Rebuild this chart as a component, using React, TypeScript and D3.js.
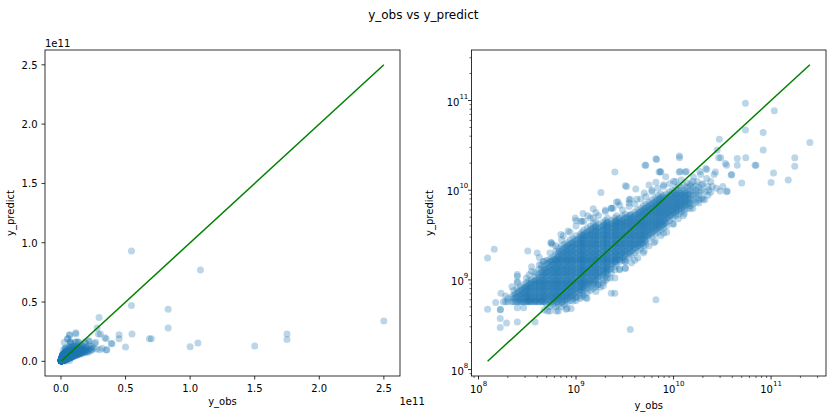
import * as d3 from "d3";

// all observed / predicted values are given in units of 1e8
const UNIT = 1e8;

// dense part of the cloud: one y_obs value with the y_predict values read above it
const cloud: [number, number[]][] = [
  [1.8, [5.7]],
  [1.9, [5.7, 6.6]],
  [2.0, [5.7, 6.2]],
  [2.2, [5.7, 6.5, 8.4]],
  [2.3, [5.7, 6.2, 6.8, 7.6]],
  [2.5, [4.9, 5.7, 6.5, 7.2, 8, 9.6, 11.5]],
  [2.7, [5.7, 6.2, 6.8, 7.6, 8.4]],
  [2.9, [4.9, 5.7, 6.5, 7.2, 8, 8.9]],
  [3.1, [5.7, 6.2, 6.8, 7.6, 8.4, 9.3, 10.5]],
  [3.3, [5.7, 5.9, 6.5, 7.2, 8, 8.9, 9.8, 11.4]],
  [3.5, [5.7, 6.2, 6.8, 7.6, 8.4, 9.3, 10, 12.4]],
  [3.8, [5.7, 5.9, 6.5, 7.2, 8, 8.9, 9.8, 11, 12]],
  [4.1, [5.7, 6.2, 6.8, 7.6, 8.4, 9.3, 10, 11.5, 13]],
  [4.4, [5.7, 5.9, 6.5, 7.2, 8, 8.9, 9.8, 11, 12, 13.4, 14.7]],
  [4.7, [4.6, 5.7, 6.2, 6.8, 7.6, 8.4, 9.3, 10, 11.5, 13, 14, 16]],
  [5.0, [5.3, 5.9, 6.5, 7.2, 8, 8.9, 9.8, 11, 12, 13.4, 15, 16.5]],
  [5.4, [4.5, 5, 5.6, 6.2, 6.8, 7.6, 8.4, 9.3, 10, 11.5, 13, 14, 16, 17, 20]],
  [5.8, [5.3, 5.9, 6.5, 7.2, 8, 8.9, 9.8, 11, 12, 13.4, 15, 16.5, 18]],
  [6.2, [5, 5.6, 6.2, 6.8, 7.6, 8.4, 9.3, 10, 11.5, 13, 14, 16, 17, 19, 21, 24]],
  [6.6, [4.5, 5.3, 5.9, 6.5, 7.2, 8, 8.9, 9.8, 11, 12, 13.4, 15, 16.5, 18, 20, 22.5]],
  [7.1, [5, 5.6, 6.2, 6.8, 7.6, 8.4, 9.3, 10, 11.5, 13, 14, 16, 17, 19, 21, 24, 28]],
  [7.6, [5.3, 5.9, 6.5, 7.2, 8, 8.9, 9.8, 11, 12, 13.4, 15, 16.5, 18, 20, 22.5, 25]],
  [8.1, [4.8, 5.6, 6.2, 6.8, 7.6, 8.4, 9.3, 10, 11.5, 13, 14, 16, 17, 19, 21, 24, 26]],
  [8.7, [5.9, 6.5, 7.2, 8, 8.9, 9.8, 11, 12, 13.4, 15, 16.5, 18, 20, 22.5, 25, 28, 34]],
  [9.3, [5.8, 6.2, 6.8, 7.6, 8.4, 9.3, 10, 11.5, 13, 14, 16, 17, 19, 21, 24, 26, 29]],
  [10, [5.9, 6.5, 7.2, 8, 8.9, 9.8, 11, 12, 13.4, 15, 16.5, 18, 20, 22.5, 25, 28, 31, 40]],
  [11, [6.2, 6.8, 7.6, 8.4, 9.3, 10, 11.5, 13, 14, 16, 17, 19, 21, 24, 26, 29, 32]],
  [11.5, [6.5, 7.2, 8, 8.9, 9.8, 11, 12, 13.4, 15, 16.5, 18, 20, 22.5, 25, 28, 31, 34, 45]],
  [12, [6.8, 7.6, 8.4, 9.3, 10, 11.5, 13, 14, 16, 17, 19, 21, 24, 26, 29, 32, 36]],
  [13, [6.2, 7.2, 8, 8.9, 9.8, 11, 12, 13.4, 15, 16.5, 18, 20, 22.5, 25, 28, 31, 34, 38]],
  [14, [7.6, 8.4, 9.3, 10, 11.5, 13, 14, 16, 17, 19, 21, 24, 26, 29, 32, 36, 40, 49]],
  [15, [8, 8.9, 9.8, 11, 12, 13.4, 15, 16.5, 18, 20, 22.5, 25, 28, 31, 34, 38, 42]],
  [16, [7.4, 8.4, 9.3, 10, 11.5, 13, 14, 16, 17, 19, 21, 24, 26, 29, 32, 36, 40, 44]],
  [17, [8.9, 9.8, 11, 12, 13.4, 15, 16.5, 18, 20, 22.5, 25, 28, 31, 34, 38, 42, 52]],
  [19, [8.6, 9.3, 10, 11.5, 13, 14, 16, 17, 19, 21, 24, 26, 29, 32, 36, 40, 44]],
  [20, [9.8, 11, 12, 13.4, 15, 16.5, 18, 20, 22.5, 25, 28, 31, 34, 38, 42, 46, 58]],
  [21, [10.4, 11.5, 13, 14, 16, 17, 19, 21, 24, 26, 29, 32, 36, 40, 44, 49]],
  [23, [12, 13.4, 15, 16.5, 18, 20, 22.5, 25, 28, 31, 34, 38, 42, 46, 63]],
  [25, [10.5, 13, 14, 16, 17, 19, 21, 24, 26, 29, 32, 36, 40, 44, 49]],
  [26, [15, 16.5, 18, 20, 22.5, 25, 28, 31, 34, 38, 42, 46, 52, 74]],
  [28, [13, 16, 17, 19, 21, 24, 26, 29, 32, 36, 40, 44, 49]],
  [30, [16.5, 18, 20, 22.5, 25, 28, 31, 34, 38, 42, 46, 52, 60]],
  [32, [13.5, 16, 17, 19, 21, 24, 26, 29, 32, 36, 40, 44, 49, 54]],
  [35, [18, 20, 22.5, 25, 28, 31, 34, 38, 42, 46, 52, 66]],
  [37, [15.5, 19, 21, 24, 26, 29, 32, 36, 40, 44, 49, 54]],
  [40, [20, 22.5, 25, 28, 31, 34, 38, 42, 46, 52, 57, 70]],
  [43, [17.5, 21, 24, 26, 29, 32, 36, 40, 44, 49, 54, 60]],
  [46, [22.5, 25, 28, 31, 34, 38, 42, 46, 52, 57, 63, 80]],
  [49, [20, 24, 26, 29, 32, 36, 40, 44, 49, 54, 60, 67]],
  [52, [25, 28, 31, 34, 38, 42, 46, 52, 57, 63, 70, 85]],
  [56, [24, 29, 32, 36, 40, 44, 49, 54, 60, 67, 74]],
  [60, [30.7, 34, 38, 42, 46, 52, 57, 63, 70, 78, 96]],
  [65, [27, 32, 36, 40, 44, 49, 54, 60, 67, 74, 82]],
  [69, [34, 38, 42, 46, 52, 57, 63, 70, 78, 87, 105]],
  [74, [31, 36, 40, 44, 49, 54, 60, 67, 74, 82, 91]],
  [79, [38, 42, 46, 52, 57, 63, 70, 78, 87, 110]],
  [85, [34, 40, 44, 49, 54, 60, 67, 74, 82, 91]],
  [91, [46, 52, 57, 63, 70, 78, 87, 96, 118]],
  [98, [42, 49, 54, 60, 67, 74, 82, 91, 100]],
  [105, [52, 57, 63, 70, 78, 87, 96, 107, 125]],
  [112, [48, 54, 60, 67, 74, 82, 91, 100, 112]],
  [120, [57, 63, 70, 78, 87, 96, 107, 130]],
  [129, [55, 60, 67, 74, 82, 91, 100, 112]],
  [138, [63, 70, 78, 87, 96, 107, 120]],
  [148, [62, 67, 74, 82, 91, 100, 112]],
  [158, [70, 78, 87, 96, 107, 125]],
  [170, [74, 82, 91, 100, 112]],
  [182, [72, 78, 87, 96, 107]],
  [195, [82, 100, 115]],
  [209, [78, 96]],
  [225, [88, 110]],
  [240, [95]],
];

// saturated middle of the cloud, read between the columns above
const cloudInner: [number, number[]][] = [
  [2.4, [5.7, 6.4, 7]],
  [2.6, [5.7, 6, 6.7, 7.4]],
  [2.8, [5.7, 6.4, 7, 7.8]],
  [3.0, [5.7, 6, 6.7, 7.4, 8.2]],
  [3.2, [5.7, 6.4, 7, 7.8, 8.6]],
  [3.4, [5.7, 6, 6.7, 7.4, 8.2, 9.1]],
  [3.7, [5.7, 6.4, 7, 7.8, 8.6, 9.5]],
  [3.9, [5.7, 6, 6.7, 7.4, 8.2, 9.1, 10]],
  [4.2, [5.7, 6.4, 7, 7.8, 8.6, 9.5, 10.7]],
  [4.5, [5.7, 6, 6.7, 7.4, 8.2, 9.1, 10, 11.2, 12.4]],
  [4.8, [5.7, 6.4, 7, 7.8, 8.6, 9.5, 10.7, 11.8, 13]],
  [5.2, [6, 6.7, 7.4, 8.2, 9.1, 10, 11.2, 12.4, 13.7, 15.3]],
  [5.6, [5.7, 6.4, 7, 7.8, 8.6, 9.5, 10.7, 11.8, 13, 14.5, 16]],
  [6.0, [6, 6.7, 7.4, 8.2, 9.1, 10, 11.2, 12.4, 13.7, 15.3, 16.9]],
  [6.4, [5.7, 6.4, 7, 7.8, 8.6, 9.5, 10.7, 11.8, 13, 14.5, 16, 17.8]],
  [6.8, [6, 6.7, 7.4, 8.2, 9.1, 10, 11.2, 12.4, 13.7, 15.3, 16.9, 18.8, 20.8]],
  [7.3, [5.7, 6.4, 7, 7.8, 8.6, 9.5, 10.7, 11.8, 13, 14.5, 16, 17.8, 19.8, 22]],
  [7.9, [6, 6.7, 7.4, 8.2, 9.1, 10, 11.2, 12.4, 13.7, 15.3, 16.9, 18.8, 20.8, 23]],
  [8.4, [6.4, 7, 7.8, 8.6, 9.5, 10.7, 11.8, 13, 14.5, 16, 17.8, 19.8, 22, 24.3]],
  [9.0, [6.7, 7.4, 8.2, 9.1, 10, 11.2, 12.4, 13.7, 15.3, 16.9, 18.8, 20.8, 23, 25.6]],
  [9.7, [7, 7.8, 8.6, 9.5, 10.7, 11.8, 13, 14.5, 16, 17.8, 19.8, 22, 24.3, 27]],
  [10.4, [7.4, 8.2, 9.1, 10, 11.2, 12.4, 13.7, 15.3, 16.9, 18.8, 20.8, 23, 25.6, 28.4]],
  [11.1, [7.8, 8.6, 9.5, 10.7, 11.8, 13, 14.5, 16, 17.8, 19.8, 22, 24.3, 27, 30]],
  [11.9, [8.2, 9.1, 10, 11.2, 12.4, 13.7, 15.3, 16.9, 18.8, 20.8, 23, 25.6, 28.4, 31.5]],
  [12.7, [8.6, 9.5, 10.7, 11.8, 13, 14.5, 16, 17.8, 19.8, 22, 24.3, 27, 30, 33]],
  [13.6, [9.1, 10, 11.2, 12.4, 13.7, 15.3, 16.9, 18.8, 20.8, 23, 25.6, 28.4, 31.5, 35]],
  [14.6, [9.5, 10.7, 11.8, 13, 14.5, 16, 17.8, 19.8, 22, 24.3, 27, 30, 33, 37]],
  [15.7, [10, 11.2, 12.4, 13.7, 15.3, 16.9, 18.8, 20.8, 23, 25.6, 28.4, 31.5, 35, 38.8]],
  [16.8, [10.7, 11.8, 13, 14.5, 16, 17.8, 19.8, 22, 24.3, 27, 30, 33, 37]],
  [18.0, [11.2, 12.4, 13.7, 15.3, 16.9, 18.8, 20.8, 23, 25.6, 28.4, 31.5, 35, 38.8]],
  [19.3, [11.8, 13, 14.5, 16, 17.8, 19.8, 22, 24.3, 27, 30, 33, 37, 41]],
  [20.7, [12.4, 13.7, 15.3, 16.9, 18.8, 20.8, 23, 25.6, 28.4, 31.5, 35, 38.8, 43]],
  [22.1, [13, 14.5, 16, 17.8, 19.8, 22, 24.3, 27, 30, 33, 37, 41]],
  [23.7, [15.3, 16.9, 18.8, 20.8, 23, 25.6, 28.4, 31.5, 35, 38.8, 43]],
  [25.4, [16, 17.8, 19.8, 22, 24.3, 27, 30, 33, 37, 41, 45]],
  [27.2, [16.9, 18.8, 20.8, 23, 25.6, 28.4, 31.5, 35, 38.8, 43, 47.7]],
  [29.2, [17.8, 19.8, 22, 24.3, 27, 30, 33, 37, 41, 45]],
  [31.3, [18.8, 20.8, 23, 25.6, 28.4, 31.5, 35, 38.8, 43, 47.7]],
  [33.5, [19.8, 22, 24.3, 27, 30, 33, 37, 41, 45, 50]],
  [35.9, [20.8, 23, 25.6, 28.4, 31.5, 35, 38.8, 43, 47.7, 53]],
  [38.5, [22, 24.3, 27, 30, 33, 37, 41, 45, 50]],
  [41.2, [23, 25.6, 28.4, 31.5, 35, 38.8, 43, 47.7, 53]],
  [44.2, [24.3, 27, 30, 33, 37, 41, 45, 50, 56]],
  [47.3, [25.6, 28.4, 31.5, 35, 38.8, 43, 47.7, 53, 58.7]],
  [50.7, [27, 30, 33, 37, 41, 45, 50, 56, 62]],
  [54.3, [31.5, 35, 38.8, 43, 47.7, 53, 58.7, 65]],
  [58.2, [33, 37, 41, 45, 50, 56, 62, 68]],
  [62.4, [35, 38.8, 43, 47.7, 53, 58.7, 65, 72]],
  [66.8, [37, 41, 45, 50, 56, 62, 68, 76]],
  [71.6, [38.8, 43, 47.7, 53, 58.7, 65, 72, 80]],
  [76.7, [41, 45, 50, 56, 62, 68, 76, 84]],
  [82.2, [43, 47.7, 53, 58.7, 65, 72, 80]],
  [88.1, [50, 56, 62, 68, 76, 84]],
  [94.4, [53, 58.7, 65, 72, 80, 89]],
  [101, [56, 62, 68, 76, 84, 93]],
  [108, [58.7, 65, 72, 80, 89]],
  [116, [62, 68, 76, 84, 93]],
  [124, [65, 72, 80, 89]],
  [133, [68, 76, 84, 93]],
  [143, [72, 80, 89]],
];

// scattered points around the cloud: [y_obs, y_predict]
const outliers: [number, number][] = [
  [546, 930], [1080, 770], [546, 470], [830, 440], [830, 280], [2500, 340],
  [1750, 230], [1750, 185], [1060, 155], [1000, 122], [1500, 130],
  [550, 230], [450, 225], [450, 190], [390, 148], [395, 150], [350, 190],
  [350, 96], [355, 98], [500, 120], [685, 190], [700, 190], [295, 370],
  [280, 280], [290, 230], [305, 230], [115, 230], [67, 220], [52, 190],
  [25, 160], [74, 160], [71, 160], [32, 112], [33, 110], [41, 103],
  [35, 78], [36, 79], [18, 94], [15, 62], [11.8, 55], [10, 46], [9.8, 49],
  [12, 45], [15, 49], [23, 63], [27, 74], [7.4, 31], [7.0, 32], [5.7, 25],
  [5.5, 26], [4, 20], [3.2, 21], [1.45, 22], [1.24, 17.5], [1.24, 4.7],
  [1.5, 5.6], [1.67, 4.6], [1.68, 4.7], [1.67, 3.7], [1.67, 2.95],
  [1.7, 7.1], [1.94, 3.3], [2.5, 3.4], [3.8, 3.4], [36, 2.8], [66, 6.0],
  [23, 7.1], [25, 7.1], [7.9, 4.7], [5.1, 4.5], [6.3, 4.5], [10, 6.3],
  [16.6, 8.8], [32, 16], [32, 13.5], [4.6, 16], [4.2, 14.7], [2.5, 11],
  [2.5, 9.3], [56, 114], [66, 123], [83, 141], [114, 160], [132, 160],
  [214, 174], [269, 160], [340, 199], [51, 190], [66, 224], [73, 162],
  [115, 240], [117, 162], [135, 162], [186, 162], [219, 170], [219, 135],
  [160, 140], [190, 150], [240, 125], [250, 110], [200, 118], [260, 150],
  [230, 100], [275, 105], [300, 98], [320, 110], [175, 125], [150, 118],
  // loose points along the upper edge of the cloud
  [3.5, 14], [4.2, 17.8], [5.6, 26], [8.3, 35], [11.2, 45], [13.2, 52],
  [16, 56], [20, 60], [24, 63], [28, 68], [35, 72], [42, 79], [50, 93],
  [60, 100], [79, 115], [100, 126],
  // loose points along the lower edge of the cloud
  [8.9, 4.8], [12.6, 6.3], [17.8, 8.3], [22.4, 10.5], [28, 13.2], [40, 16.6],
  [50, 21], [63, 26], [79, 33], [100, 42], [126, 52], [158, 63], [200, 79],
];

// tick values
const linearTicks = [0, 0.5, 1.0, 1.5, 2.0, 2.5]; // x 1e11
const logDecades = [8, 9, 10, 11];

const toPoints = (cols: [number, number[]][]) =>
  cols.flatMap(([o, ps]) => ps.map((p) => [o * UNIT, p * UNIT] as [number, number]));

const points: [number, number][] = [
  ...toPoints(cloud),
  ...toPoints(cloudInner),
  ...outliers.map(([o, p]) => [o * UNIT, p * UNIT] as [number, number]),
];

const W = 833;
const H = 419;
const TOP = 50;
const BOTTOM = 376;
const FONT = "DejaVu Sans";
const BLUE = "#1f77b4";

const obsMin = d3.min(points, (d) => d[0]) ?? 0;
const obsMax = d3.max(points, (d) => d[0]) ?? 0;
const predMin = Math.min(d3.min(points, (d) => d[1]) ?? 0, obsMin);
const predMax = Math.max(d3.max(points, (d) => d[1]) ?? 0, obsMax);

function padLinear(lo: number, hi: number): [number, number] {
  const m = (hi - lo) * 0.05;
  return [lo - m, hi + m];
}
function padLog(lo: number, hi: number): [number, number] {
  const a = Math.log10(lo);
  const b = Math.log10(hi);
  const m = (b - a) * 0.05;
  return [Math.pow(10, a - m), Math.pow(10, b + m)];
}

function Panel({ log, x0, x1 }: { log: boolean; x0: number; x1: number }) {
  const xs = log
    ? d3.scaleLog().domain(padLog(obsMin, obsMax)).range([x0, x1])
    : d3.scaleLinear().domain(padLinear(obsMin, obsMax)).range([x0, x1]);
  const ys = log
    ? d3.scaleLog().domain(padLog(predMin, predMax)).range([BOTTOM, TOP])
    : d3.scaleLinear().domain(padLinear(predMin, predMax)).range([BOTTOM, TOP]);

  const [xd0, xd1] = xs.domain();
  const [yd0, yd1] = ys.domain();
  const minors: number[] = [];
  if (log) {
    for (let e = 7; e <= 11; e++)
      for (let m = 2; m <= 9; m++) minors.push(m * Math.pow(10, e));
  }
  const xMinor = minors.filter((v) => v >= xd0 && v <= xd1);
  const yMinor = minors.filter((v) => v >= yd0 && v <= yd1);
  const majors = log ? logDecades.map((e) => Math.pow(10, e)) : linearTicks.map((t) => t * 1e11);
  const cx = (x0 + x1) / 2;
  const cy = (TOP + BOTTOM) / 2;

  const line = d3.line<number>().x((v) => xs(v)).y((v) => ys(v));

  return (
    <g>
      <g fill={BLUE} fillOpacity={0.3}>
        {points.map((d, i) => (
          <circle key={i} cx={xs(d[0])} cy={ys(d[1])} r={3.5} />
        ))}
      </g>
      <path d={line([obsMin, obsMax]) ?? ""} stroke="green" strokeWidth={1.5} fill="none" />
      <rect x={x0} y={TOP} width={x1 - x0} height={BOTTOM - TOP} fill="none" stroke="#000" strokeWidth={0.8} />
      <g stroke="#000">
        {majors.map((v, i) => (
          <line key={"xt" + i} x1={xs(v)} x2={xs(v)} y1={BOTTOM} y2={BOTTOM + 3.5} strokeWidth={0.8} />
        ))}
        {majors.map((v, i) => (
          <line key={"yt" + i} x1={x0} x2={x0 - 3.5} y1={ys(v)} y2={ys(v)} strokeWidth={0.8} />
        ))}
        {xMinor.map((v, i) => (
          <line key={"xm" + i} x1={xs(v)} x2={xs(v)} y1={BOTTOM} y2={BOTTOM + 2} strokeWidth={0.6} />
        ))}
        {yMinor.map((v, i) => (
          <line key={"ym" + i} x1={x0} x2={x0 - 2} y1={ys(v)} y2={ys(v)} strokeWidth={0.6} />
        ))}
      </g>
      <g fontFamily={FONT} fontSize={10} fill="#000">
        {log
          ? logDecades.map((e, i) => (
              <text key={"xl" + i} x={xs(Math.pow(10, e))} y={393.3} textAnchor="middle">
                10<tspan dy={-7} fontSize={7}>{e}</tspan>
              </text>
            ))
          : linearTicks.map((t, i) => (
              <text key={"xl" + i} x={xs(t * 1e11)} y={392.3} textAnchor="middle">
                {t.toFixed(1)}
              </text>
            ))}
        {log
          ? logDecades.map((e, i) => (
              <text key={"yl" + i} x={468.3} y={ys(Math.pow(10, e)) + 5} textAnchor="end">
                10<tspan dy={-7} fontSize={7}>{e}</tspan>
              </text>
            ))
          : linearTicks.map((t, i) => (
              <text key={"yl" + i} x={x0 - 7.5} y={ys(t * 1e11) + 3.8} textAnchor="end">
                {t.toFixed(1)}
              </text>
            ))}
        {!log && (
          <>
            <text x={x0} y={47.3}>1e11</text>
            <text x={x1 - 0.5} y={405}>1e11</text>
          </>
        )}
        <text x={cx} y={log ? 408.5 : 405} textAnchor="middle">y_obs</text>
        <text transform={`translate(${log ? 433 : 14},${cy}) rotate(-90)`} textAnchor="middle">
          y_predict
        </text>
      </g>
    </g>
  );
}

export default function App() {
  return (
    <svg
      width={W}
      height={H}
      style={{ position: "absolute", left: 0, top: 0, background: "#fff" }}
    >
      <rect width={W} height={H} fill="#fff" />
      <text x={423.3} y={18.5} textAnchor="middle" fontFamily={FONT} fontSize={12}>
        y_obs vs y_predict
      </text>
      <Panel log={false} x0={45} x1={400} />
      <Panel log={true} x0={471.5} x1={826} />
    </svg>
  );
}
